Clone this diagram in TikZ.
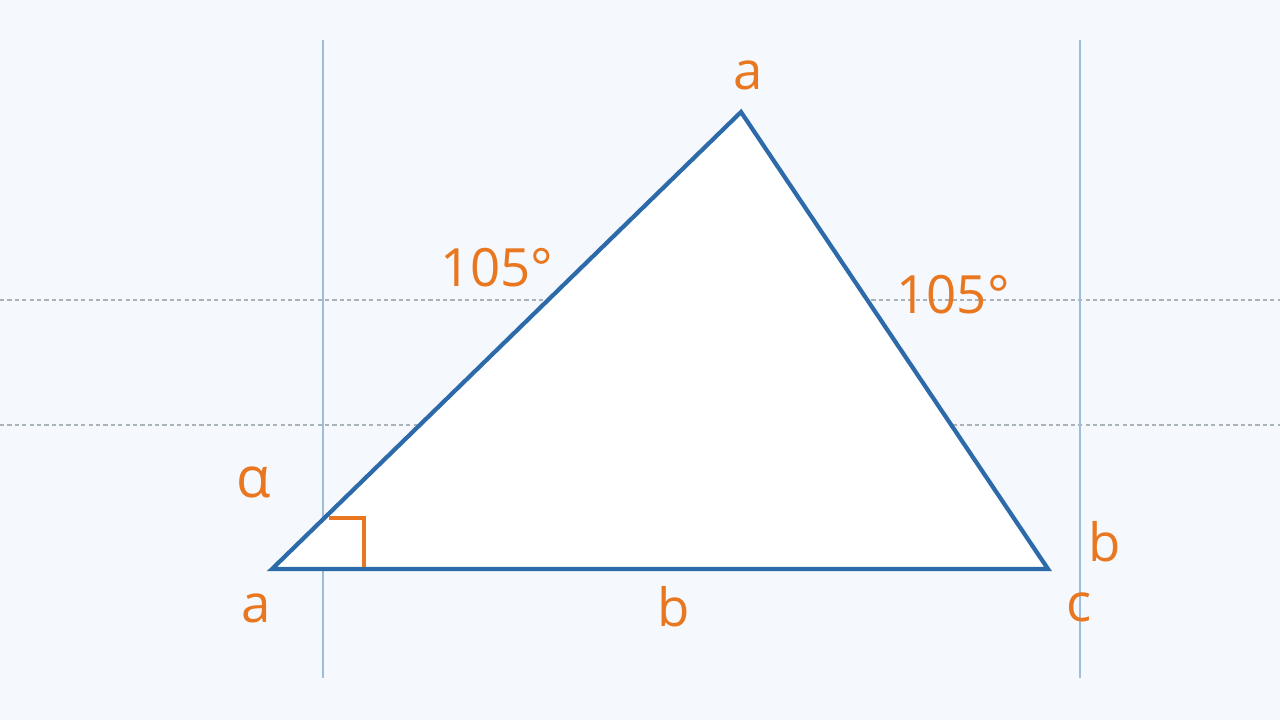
\documentclass[tikz,border=0pt]{standalone}
\usepackage{fontspec}
\setmainfont{Open Sans}
\usepackage{tikz}
\definecolor{bgcol}{HTML}{F5F8FC}
\definecolor{edgeblue}{HTML}{2D6AAA}
\definecolor{labelorange}{HTML}{E8771F}
\definecolor{guideblue}{HTML}{9DBDDA}
\definecolor{dashgray}{HTML}{AAB2BA}
\tikzset{
  lbl/.style={text=labelorange, font=\fontsize{15}{17}\selectfont, inner sep=0pt},
  guide/.style={guideblue, line width=0.35pt},
  gridline/.style={dashgray, line width=0.35pt, dash pattern=on 1.2pt off 0.9pt}
}
\begin{document}
\begin{tikzpicture}[x=0.01cm, y=-0.01cm]
  \fill[bgcol] (0,0) rectangle (1280,720);
  \useasboundingbox (0,0) rectangle (1280,720);
  % guide lines behind the triangle
  \coordinate (g1top) at (323,40);
  \coordinate (g1bot) at (323,678);
  \coordinate (g2top) at (1080,40);
  \coordinate (g2bot) at (1080,678);
  \coordinate (h1l) at (0,300);
  \coordinate (h1r) at (1280,300);
  \coordinate (h2l) at (0,425);
  \coordinate (h2r) at (1280,425);
  \draw[gridline] (h1l) -- (h1r);
  \draw[gridline] (h2l) -- (h2r);
  \draw[guide] (g1top) -- (g1bot);
  \draw[guide] (g2top) -- (g2bot);
  % triangle
  \coordinate (left) at (272,569);
  \coordinate (apex) at (741,112);
  \coordinate (right) at (1048,569);
  \draw[edgeblue, fill=white, line width=1.2pt, line join=miter] (left) -- (apex) -- (right) -- cycle;
  % right angle mark
  \coordinate (rm1) at (329,518);
  \coordinate (rm2) at (364,518);
  \coordinate (rm3) at (364,567);
  \draw[labelorange, line width=0.95pt] (rm1) -- (rm2) -- (rm3);
  % labels
  \node (lapex) [lbl] at (748,75) {a};
  \node (langl) [lbl] at (497,268) {105°};
  \node (langr) [lbl] at (953,295) {105°};
  \node (lalpha) [lbl, font=\fontsize{16}{18}\selectfont] at (254,482) {α};
  \node (lleft) [lbl] at (256,608) {a};
  \node (lbase) [lbl] at (674,607) {b};
  \node (lrightb) [lbl] at (1105,542) {b};
  \node (lrightc) [lbl] at (1079,607) {c};
\end{tikzpicture}
\end{document}
